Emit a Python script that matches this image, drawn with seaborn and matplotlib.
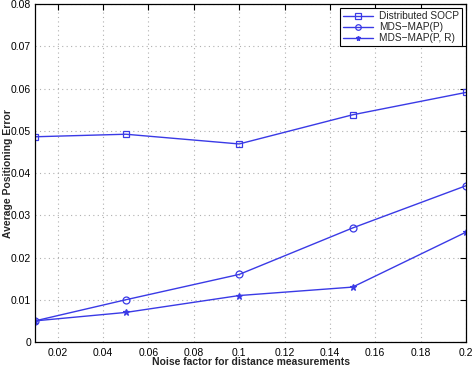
import matplotlib
matplotlib.use("Agg")
import matplotlib.pyplot as plt
import seaborn as sns
import pandas as pd

noise = [0.01, 0.05, 0.10, 0.15, 0.20]
socp = [0.0486, 0.0492, 0.0469, 0.0538, 0.0591]
mds_p = [0.005, 0.010, 0.016, 0.027, 0.037]
mds_pr = [0.005, 0.007, 0.011, 0.013, 0.026]
series_names = ["Distributed SOCP", "MDS\u2212MAP(P)", "MDS\u2212MAP(P, R)"]
xticks = [0.02, 0.04, 0.06, 0.08, 0.1, 0.12, 0.14, 0.16, 0.18, 0.2]
xtick_labels = ["0.02", "0.04", "0.06", "0.08", "0.1", "0.12", "0.14", "0.16", "0.18", "0.2"]
yticks = [0, 0.01, 0.02, 0.03, 0.04, 0.05, 0.06, 0.07, 0.08]
ytick_labels = ["0", "0.01", "0.02", "0.03", "0.04", "0.05", "0.06", "0.07", "0.08"]

df = pd.DataFrame({
    "x": noise * 3,
    "y": socp + mds_p + mds_pr,
    "s": [series_names[0]] * 5 + [series_names[1]] * 5 + [series_names[2]] * 5,
})

sns.set_style("white")
plt.rcParams["font.family"] = ["Liberation Sans", "DejaVu Sans"]

fig = plt.figure(figsize=(4.74, 3.66), dpi=100)
ax = fig.add_axes([0.074, 0.0656, 0.909, 0.923])

color = "#3a3ae6"
markers = {series_names[0]: "s", series_names[1]: "o", series_names[2]: "*"}
for name in series_names:
    sub = df[df["s"] == name]
    m = markers[name]
    sns.lineplot(data=sub, x="x", y="y", ax=ax, color=color, lw=1.0,
                 marker=m, markersize=(5 if m != "*" else 4.5),
                 markerfacecolor=("none" if m != "*" else color),
                 markeredgecolor=color, markeredgewidth=0.9, label=name)

ax.set_xlim(0.01, 0.2)
ax.set_ylim(0, 0.08)
ax.set_xticks(xticks)
ax.set_xticklabels(xtick_labels)
ax.set_yticks(yticks)
ax.set_yticklabels(ytick_labels)
ax.tick_params(direction="in", length=4, width=0.8, top=True, right=True,
               labelsize=7.5, colors="black")
ax.tick_params(axis="x", pad=4)
ax.tick_params(axis="y", pad=3)
ax.grid(True, linestyle=(0, (1, 3)), color="#b0b0b0", lw=0.8)
for sp in ax.spines.values():
    sp.set_color("black")
    sp.set_linewidth(0.9)

ax.set_xlabel("Noise factor for distance measurements", fontsize=7.5,
              fontweight="bold")
ax.xaxis.set_label_coords(0.5, -0.045)
ax.set_ylabel("Average Positioning Error", fontsize=7.5, fontweight="bold")
ax.yaxis.set_label_coords(-0.052, 0.5)

leg = ax.legend(loc="upper right", fontsize=7.3, frameon=True, fancybox=False,
                borderpad=0.3, handlelength=2.9, handletextpad=0.6,
                labelspacing=0.1, borderaxespad=0.4, markerscale=0.8)
leg.get_frame().set_edgecolor("black")
leg.get_frame().set_linewidth(0.8)
leg.get_frame().set_alpha(1)

fig.savefig("out.png", dpi=100)
